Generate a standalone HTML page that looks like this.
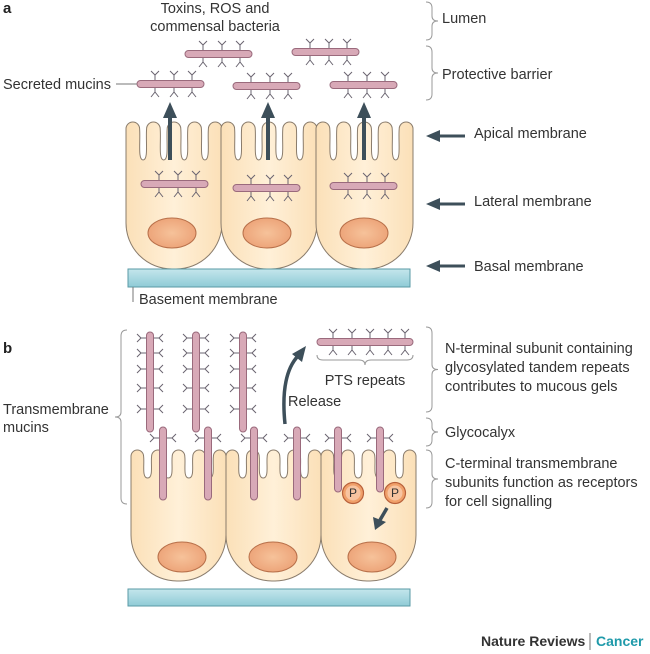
<!DOCTYPE html>
<html><head><meta charset="utf-8"><style>
html,body{margin:0;padding:0;background:#fff;}
svg{display:block;}
text{font-family:"Liberation Sans",sans-serif;font-size:14.5px;fill:#333;}
</style></head><body>
<svg id="s" width="650" height="654" viewBox="0 0 650 654" xmlns="http://www.w3.org/2000/svg">
<defs>
<linearGradient id="cg" x1="0" y1="0" x2="1" y2="0"><stop offset="0" stop-color="#fbe0b8"/><stop offset="0.5" stop-color="#fff0d8"/><stop offset="1" stop-color="#fbe0b8"/></linearGradient>
<radialGradient id="ng"><stop offset="0" stop-color="#f6c29a"/><stop offset="1" stop-color="#eda57a"/></radialGradient>
<linearGradient id="bg" x1="0" y1="0" x2="0" y2="1"><stop offset="0" stop-color="#c4e6ec"/><stop offset="1" stop-color="#8fcbd6"/></linearGradient>
</defs>
<g id="cells"></g>
<g id="fg"></g>
<rect x="128" y="269" width="282" height="18" fill="url(#bg)" stroke="#5a9aa6" stroke-width="1"/>
<rect x="128" y="589" width="282" height="17" fill="url(#bg)" stroke="#5a9aa6" stroke-width="1"/>
<line x1="133" y1="287" x2="133" y2="302" stroke="#777" stroke-width="1"/>

<text x="3" y="13" style="font-weight:bold;font-size:15px;fill:#222">a</text>
<text x="3" y="353" style="font-weight:bold;font-size:15px;fill:#222">b</text>
<text x="215" y="13" text-anchor="middle">Toxins, ROS and</text>
<text x="215" y="31" text-anchor="middle">commensal bacteria</text>
<text x="3" y="89">Secreted mucins</text>
<line x1="116" y1="84" x2="137" y2="84" stroke="#777"/>
<text x="442" y="23">Lumen</text>
<text x="442" y="79">Protective barrier</text>
<text x="474" y="138">Apical membrane</text>
<text x="474" y="206">Lateral membrane</text>
<text x="474" y="271">Basal membrane</text>
<text x="139" y="304">Basement membrane</text>
<text x="3" y="414">Transmembrane</text>
<text x="3" y="432">mucins</text>
<text x="365" y="385" text-anchor="middle">PTS repeats</text>
<text x="288" y="406">Release</text>
<text x="445" y="353">N-terminal subunit containing</text>
<text x="445" y="372">glycosylated tandem repeats</text>
<text x="445" y="391">contributes to mucous gels</text>
<text x="445" y="437">Glycocalyx</text>
<text x="445" y="468">C-terminal transmembrane</text>
<text x="445" y="487">subunits function as receptors</text>
<text x="445" y="506">for cell signalling</text>
<text x="481" y="646" style="font-weight:bold;fill:#333;font-size:14px">Nature Reviews</text>
<line x1="590" y1="633" x2="590" y2="650" stroke="#777"/>
<text x="596" y="646" style="font-weight:bold;fill:#1f9aaa;font-size:14px">Cancer</text>
<g id="pc"></g>
<text x="353" y="497" text-anchor="middle" style="font-size:12px">P</text>
<text x="395" y="497" text-anchor="middle" style="font-size:12px">P</text>
</svg>
<script>
var NS="http://www.w3.org/2000/svg";
function el(parent,tag,attrs){var e=document.createElementNS(NS,tag);for(var k in attrs)e.setAttribute(k,attrs[k]);(typeof parent=="string"?document.getElementById(parent):parent).appendChild(e);return e;}
function cell(x0,y0,W,H,depth,n,g,R){
 var fw=(W-(n-1)*g)/n, r=fw/2, gr=g/2;
 var d="M"+x0+","+(y0+H-R)+" L"+x0+","+(y0+r);
 for(var i=0;i<n;i++){
  var xl=x0+i*(fw+g), xr=xl+fw;
  d+=" A"+r+","+r+" 0 0 1 "+xr+","+(y0+r);
  if(i<n-1){d+=" C"+(xr+1)+","+(y0+depth*0.5)+" "+(xr-2)+","+(y0+depth)+" "+(xr+g/2)+","+(y0+depth)+" C"+(xr+g+2)+","+(y0+depth)+" "+(xr+g-1)+","+(y0+depth*0.5)+" "+(xr+g)+","+(y0+r);}
 }
 d+=" L"+(x0+W)+","+(y0+H-R)+" A"+R+","+R+" 0 0 1 "+(x0+W-R)+","+(y0+H)+" L"+(x0+R)+","+(y0+H)+" A"+R+","+R+" 0 0 1 "+x0+","+(y0+H-R)+"Z";
 el("cells","path",{d:d,fill:"url(#cg)",stroke:"#8a7c6c","stroke-width":"1"});
}
[126,221,316].forEach(function(x,i){cell(x,122,i==2?97:96,147,38,5,7,46);});
[131,226,321].forEach(function(x){cell(x,450,95,131,28,5,8,46);});
function nuc(p,cx,cy){el(p,"ellipse",{cx:cx,cy:cy,rx:24,ry:15,fill:"url(#ng)",stroke:"#b8704a","stroke-width":"1"});}
[[172,233],[267,233],[364,233],[182,557],[273,557],[372,557]].forEach(function(c){nuc("cells",c[0],c[1]);});
var bs={stroke:"#6a6470","stroke-width":"1",fill:"none"};
function hm(x,y,len,offs){
 offs.forEach(function(o){var bx=x+o;
  el("fg","path",Object.assign({d:"M"+bx+","+(y-3)+"V"+(y-9)+"M"+(bx-4)+","+(y-13)+"L"+bx+","+(y-9)+"L"+(bx+4)+","+(y-13)+"M"+bx+","+(y+3)+"V"+(y+9)+"M"+(bx-4)+","+(y+13)+"L"+bx+","+(y+8)+"L"+(bx+4)+","+(y+13)},bs));});
 el("fg","rect",{x:x,y:y-3.5,width:len,height:7,rx:3.5,fill:"#d8a9b7",stroke:"#9a6a7c","stroke-width":"1"});
}
function vm(x,y1,y2,bys){
 bys.forEach(function(by){
  el("fg","path",Object.assign({d:"M"+(x-3)+","+by+"H"+(x-9)+"M"+(x-13)+","+(by-4)+"L"+(x-9)+","+by+"L"+(x-13)+","+(by+4)+"M"+(x+3)+","+by+"H"+(x+9)+"M"+(x+13)+","+(by-4)+"L"+(x+9)+","+by+"L"+(x+13)+","+(by+4)},bs));});
 el("fg","rect",{x:x-3.5,y:y1,width:7,height:y2-y1,rx:3.5,fill:"#d8a9b7",stroke:"#9a6a7c","stroke-width":"1"});
}
var o3=[18,37,55];
[[185,54],[292,52],[137,84],[233,86],[330,85],[141,184],[233,188],[330,186]].forEach(function(m){hm(m[0],m[1],67,o3);});
hm(317,342,96,[16,35,53,71,88]);
[150,196,243].forEach(function(x){vm(x,332,432,[338,353,369,388,409]);});
[163,208,254,297].forEach(function(x){vm(x,427,500,[438]);});
[338,380].forEach(function(x){vm(x,427,492,[438]);});
[353,395].forEach(function(x){el("pc","circle",{cx:x,cy:493,r:10.5,fill:"#f0a06a",stroke:"#b8603a","stroke-width":"1.2"});el("pc","circle",{cx:x,cy:493,r:7.5,fill:"#f8c4a0",stroke:"none"});});
var dk="#3d4f5a";
[170,268,364].forEach(function(x){el("fg","line",{x1:x,y1:160,x2:x,y2:114,stroke:dk,"stroke-width":"4"});el("fg","path",{d:"M"+(x-7)+",118 L"+x+",102 L"+(x+7)+",118Z",fill:dk});});
[136,204,266].forEach(function(y){el("fg","line",{x1:465,y1:y,x2:438,y2:y,stroke:dk,"stroke-width":"3"});el("fg","path",{d:"M440,"+(y-6)+" L426,"+y+" L440,"+(y+6)+"Z",fill:dk});});
el("fg","path",{d:"M285,424 Q280,375 298,356",stroke:dk,"stroke-width":"3.5",fill:"none"});
el("fg","path",{d:"M292,354 L306,346 L302,362Z",fill:dk});
el("fg","line",{x1:387,y1:508,x2:380,y2:520,stroke:dk,"stroke-width":"3.5"});
el("fg","path",{d:"M373,517 L375,530 L386,522Z",fill:dk});
function vb(x,y1,y2,dir){var m=(y1+y2)/2,w=6*dir;
 var d="M"+x+","+y1+" Q"+(x+w)+","+y1+" "+(x+w)+","+(y1+6)+" L"+(x+w)+","+(m-5)+" Q"+(x+w)+","+m+" "+(x+2*w)+","+m+" Q"+(x+w)+","+m+" "+(x+w)+","+(m+5)+" L"+(x+w)+","+(y2-6)+" Q"+(x+w)+","+y2+" "+x+","+y2;
 el("fg","path",{d:d,stroke:"#999","stroke-width":"1",fill:"none"});}
vb(426,2,40,1); vb(426,46,100,1); vb(426,327,412,1); vb(426,418,446,1); vb(426,450,508,1);
vb(127,330,504,-1);
el("fg","path",{d:"M317,355 Q317,360 323,360 L359,360 Q365,360 365,365 Q365,360 371,360 L407,360 Q413,360 413,355",stroke:"#999","stroke-width":"1",fill:"none"});
</script>
</body></html>
